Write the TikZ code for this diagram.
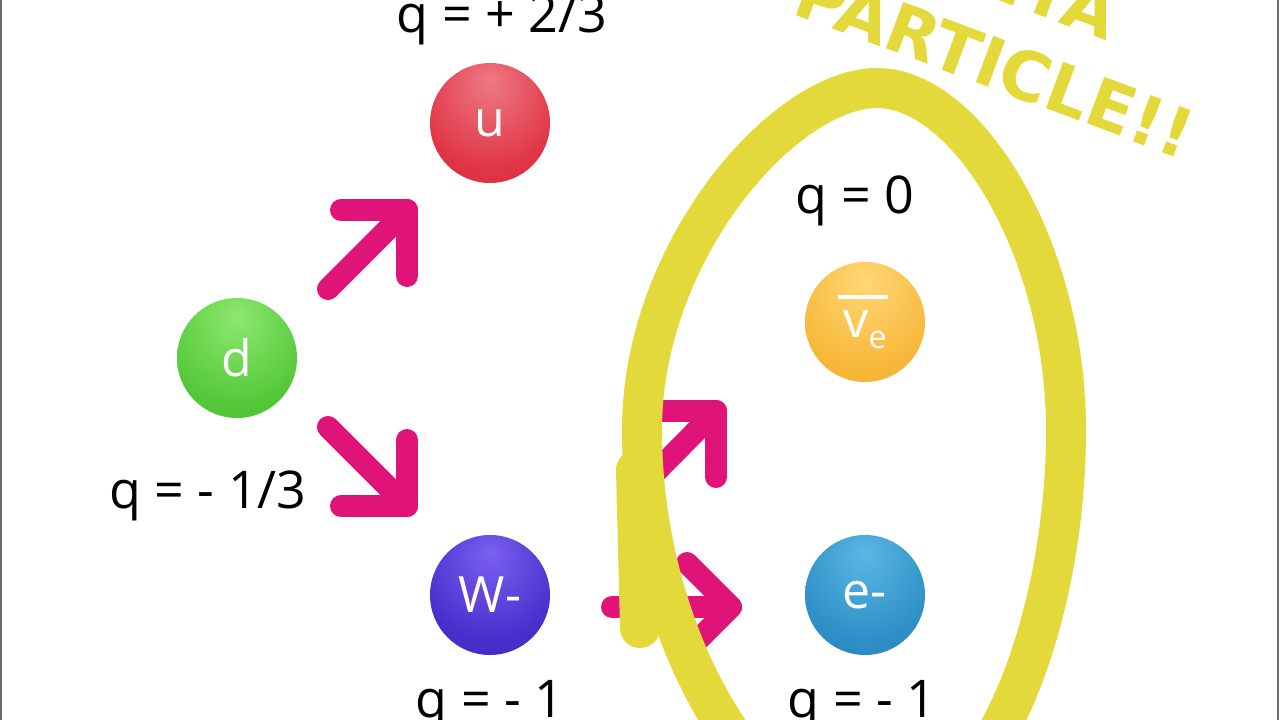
\documentclass[tikz,border=0pt]{standalone}
\usepackage{fontspec}
\setmainfont{Open Sans}
\newfontfamily\betafont{DejaVu Sans}
\usetikzlibrary{calc}
\definecolor{pinkc}{HTML}{E01478}
\definecolor{yel}{HTML}{E4D93A}
\definecolor{frame}{HTML}{6A6A6A}
\definecolor{uA}{HTML}{EE7A85}\definecolor{uB}{HTML}{E03545}\definecolor{uC}{HTML}{C41A30}
\definecolor{dA}{HTML}{8FE870}\definecolor{dB}{HTML}{55C93A}\definecolor{dC}{HTML}{36A426}
\definecolor{wA}{HTML}{7A60F0}\definecolor{wB}{HTML}{4A2ECC}\definecolor{wC}{HTML}{321E9A}
\definecolor{nA}{HTML}{FFD878}\definecolor{nB}{HTML}{F7B83A}\definecolor{nC}{HTML}{EC9E20}
\definecolor{eA}{HTML}{5AB8E4}\definecolor{eB}{HTML}{2E8FC6}\definecolor{eC}{HTML}{1C689C}
\pgfdeclareradialshading{ushade}{\pgfpoint{0bp}{18bp}}{color(0bp)=(uA); color(30bp)=(uB); color(62bp)=(uC); color(75bp)=(uC)}
\pgfdeclareradialshading{dshade}{\pgfpoint{0bp}{18bp}}{color(0bp)=(dA); color(30bp)=(dB); color(62bp)=(dC); color(75bp)=(dC)}
\pgfdeclareradialshading{wshade}{\pgfpoint{0bp}{18bp}}{color(0bp)=(wA); color(30bp)=(wB); color(62bp)=(wC); color(75bp)=(wC)}
\pgfdeclareradialshading{nshade}{\pgfpoint{0bp}{18bp}}{color(0bp)=(nA); color(30bp)=(nB); color(62bp)=(nC); color(75bp)=(nC)}
\pgfdeclareradialshading{eshade}{\pgfpoint{0bp}{18bp}}{color(0bp)=(eA); color(30bp)=(eB); color(62bp)=(eC); color(75bp)=(eC)}
\newcommand{\nubarlabel}{\rlap{\hspace{-0.12em}\rule[0.78em]{1.0em}{0.08em}}v\raisebox{-0.22em}{\fontsize{32}{32}\selectfont e}}
\tikzset{
  sphere/.style={circle, minimum size=120pt, inner sep=0pt, text=white, shade, font=\fontsize{50}{60}\selectfont},
  qlabel/.style={anchor=base, font=\fontsize{52}{62}\selectfont, text=black, inner sep=0pt},
  pinkarrow/.style={draw=pinkc, line width=22pt, line cap=round, line join=round},
  yloop/.style={draw=yel, line width=40pt, line cap=round, line join=round},
}
\begin{document}
\begin{tikzpicture}[x=1pt,y=-1pt]
\useasboundingbox (0,0) rectangle (1280,720);
\clip (0,0) rectangle (1280,720);
\fill[white] (0,0) rectangle (1280,720);
\draw[frame, line width=2pt] (1,0) -- (1,720);
\draw[frame, line width=2pt] (1278,0) -- (1278,720);

% particles
\node[sphere, shading=dshade] (d) at (237,358) {d};
\node[sphere, shading=ushade] (u) at (490,123) {u};
\node[sphere, shading=wshade] (w) at (490,595) {W-};
\node[sphere, shading=nshade] (nu) at (865,322) {\nubarlabel};
\node[sphere, shading=eshade] (e) at (865,595) {e-};

% charges
\node[qlabel] (qu) at (502,32) {q = + 2/3};
\node[qlabel] (qd) at (208,508) {q = - 1/3};
\node[qlabel] (qn) at (855,213) {q = 0};
\node[qlabel] (qw) at (490,717) {q = - 1};
\node[qlabel] (qe) at (862,717) {q = - 1};

% arrows
\coordinate (a1s) at (328,289); \coordinate (a1e) at (407,210);
\draw[pinkarrow] (a1s) -- (a1e);
\draw[pinkarrow] ($(a1e)+(-66,0)$) -- (a1e) -- ($(a1e)+(0,66)$);
\coordinate (a2s) at (328,427); \coordinate (a2e) at (407,506);
\draw[pinkarrow] (a2s) -- (a2e);
\draw[pinkarrow] ($(a2e)+(0,-66)$) -- (a2e) -- ($(a2e)+(-66,0)$);
\coordinate (a3s) at (636,492); \coordinate (a3e) at (716,411);
\draw[pinkarrow] (a3s) -- (a3e);
\draw[pinkarrow] ($(a3e)+(-66,0)$) -- (a3e) -- ($(a3e)+(0,66)$);
\coordinate (a4s) at (612,607); \coordinate (a4e) at (731,607);
\draw[pinkarrow] (a4s) -- (a4e);
\draw[pinkarrow] ($(a4e)+(-44,-44)$) -- (a4e) -- ($(a4e)+(-44,44)$);

% yellow loop
\draw[yloop] (877,88) .. controls (968,88) and (1066,250) .. (1066,430)
  .. controls (1066,620) and (990,830) .. (870,830)
  .. controls (760,830) and (642,640) .. (642,430)
  .. controls (642,250) and (785,88) .. (877,88) -- cycle;
\draw[draw=yel, line width=40pt, line cap=round] (636,470) -- (640,628);

% yellow caption
\node[rotate=-20.5, align=center, text=yel, inner sep=0pt,
      font=\betafont\bfseries\fontsize{68}{85}\selectfont] (beta) at (1010,24) {BETA\\PARTICLE!!};
\end{tikzpicture}
\end{document}
